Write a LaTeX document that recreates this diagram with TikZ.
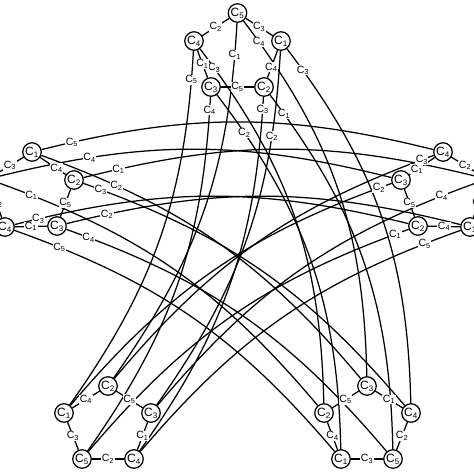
\documentclass[tikz,border=0pt]{standalone}
\usepackage{fontspec}
\setmainfont{Liberation Sans}
\pgfdeclarelayer{bg}
\pgfsetlayers{bg,main}
\begin{document}
\begin{tikzpicture}[x=1pt,y=1pt,
  vtx/.style={circle,draw,fill=white,line width=1.25pt,minimum size=18.5pt,inner sep=0pt,font=\fontsize{12}{13}\selectfont},
  lbl/.style={fill=white,inner sep=0.5pt,font=\fontsize{10.5}{11}\selectfont},
  edge/.style={line width=1.25pt}]
\useasboundingbox (0,0) rectangle (474,-474);
\clip (0,0) rectangle (474,-474);
\foreach \n/\k/\x/\y in {
  T5/5/237.5/-13, T4/4/194/-41, T1/1/281/-41, T3/3/211/-87, T2/2/264/-87,
  L1/1/32/-152, L2/2/74/-180, L3/3/57/-226, L4/4/5/-227, L5/5/-12/-179,
  R4/4/443/-152, R3/3/401/-180, R2/2/418/-226, R1/1/470/-227, R5/5/487/-179,
  BL1/1/64/-413, BL2/2/108/-386, BL3/3/151/-413, BL4/4/134/-459, BL5/5/82/-459,
  BR4/4/411/-413, BR3/3/367/-386, BR2/2/324/-413, BR1/1/341/-459, BR5/5/393/-459}
  \node[vtx] (\n) at (\x,\y) {C\textsubscript{\k}};
\begin{pgfonlayer}{bg}
\foreach \a/\b/\ang/\p/\k in {
  L1/R4/14/0.07/5, L5/R3/14/0.22/4, L2/R5/14/0.08/1, L3/R1/14/0.093/2, L4/R2/14/0.054/3,
  L1/BR3/15/0.19/2, L2/BR4/15/0.041/3, L3/BR5/15/0.053/4, L4/BR1/15/0.11/5, L5/BR2/15/0.082/1,
  R4/BL2/-15/0.03/3, R3/BL1/-15/0.03/2, R2/BL5/-15/0.032/1, R1/BL4/-15/0.087/5, R5/BL3/-15/0.087/4,
  T5/BL2/16/0.074/1, T4/BL1/16/0.067/5, T3/BL5/16/0.031/4, T2/BL4/16/0.029/3, T1/BL3/16/0.21/2,
  T5/BR3/18/0.06/4, T4/BR2/18/0.055/3, T3/BR1/18/0.11/2, T2/BR5/18/0.055/1, T1/BR4/18/0.062/3}
  \draw[edge] (\a) to[bend left=\ang] (\b);
\foreach \P in {T,L,R,BL,BR}
  \foreach \i/\j in {1/2,2/3,3/4,4/5,5/1}
    \draw[edge] (\P\i) -- (\P\j);
\foreach \a/\b/\ang/\p/\k in {
  L1/R4/14/0.07/5, L5/R3/14/0.22/4, L2/R5/14/0.08/1, L3/R1/14/0.093/2, L4/R2/14/0.054/3,
  L1/BR3/15/0.19/2, L2/BR4/15/0.041/3, L3/BR5/15/0.053/4, L4/BR1/15/0.11/5, L5/BR2/15/0.082/1,
  R4/BL2/-15/0.028/3, R3/BL1/-15/0.03/2, R2/BL5/-15/0.032/1, R1/BL4/-15/0.087/5, R5/BL3/-15/0.087/4,
  T5/BL2/16/0.074/1, T4/BL1/16/0.067/5, T3/BL5/16/0.031/4, T2/BL4/16/0.029/3, T1/BL3/16/0.21/2,
  T5/BR3/18/0.06/4, T4/BR2/18/0.055/3, T3/BR1/18/0.11/2, T2/BR5/18/0.055/1, T1/BR4/18/0.062/3}
  \path (\a) to[bend left=\ang] node[lbl,pos=\p] {C\textsubscript{\k}} (\b);
\foreach \a/\b/\k/\p in {
  T1/T2/4/0.62, T2/T3/5/0.5, T3/T4/1/0.5, T4/T5/2/0.5, T5/T1/3/0.5,
  L1/L2/4/0.64, L2/L3/5/0.5, L3/L4/1/0.5, L4/L5/2/0.5, L5/L1/3/0.5,
  R1/R2/4/0.5, R2/R3/5/0.5, R3/R4/1/0.3, R4/R5/2/0.5, R5/R1/3/0.5,
  BL1/BL2/4/0.5, BL2/BL3/5/0.5, BL3/BL4/1/0.5, BL4/BL5/2/0.5, BL5/BL1/3/0.5,
  BR1/BR2/4/0.5, BR2/BR3/5/0.5, BR3/BR4/1/0.5, BR4/BR5/2/0.5, BR5/BR1/3/0.5}
  \path (\a) -- node[lbl,pos=\p] {C\textsubscript{\k}} (\b);
\end{pgfonlayer}
\end{tikzpicture}
\end{document}
